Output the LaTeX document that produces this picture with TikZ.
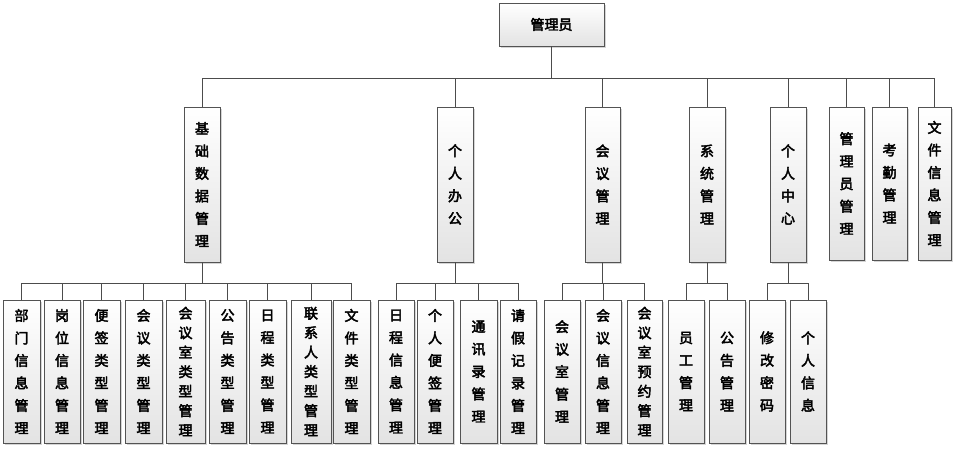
\documentclass[tikz,border=0pt]{standalone}
\usepackage{fontspec}
\newfontfamily\cjk{Noto Sans CJK SC}[AutoFakeBold=3]
\usetikzlibrary{shadows}
\tikzset{
 box/.style={draw=gray!65!black, line width=0.7pt, top color=white, bottom color=gray!22, inner sep=0pt,
   drop shadow={shadow xshift=2pt, shadow yshift=-2pt, fill=gray!55, opacity=0.6},
   align=center, font=\cjk\bfseries\fontsize{14}{22.5}\selectfont},
 tight/.style={font=\cjk\bfseries\fontsize{14}{19.5}\selectfont},
 ln/.style={draw=gray!60!black, line width=0.7pt}
}
\newcommand\bx[7][]{\node[box,#1, minimum width={(#5-#3)*1pt}, minimum height={(#6-#4)*1pt}] (#2) at ({(#3+#5)/2},{(#4+#6)/2}) {#7};}
\begin{document}
\begin{tikzpicture}[x=1pt,y=-1pt]
\useasboundingbox (0,0) rectangle (954,449);
\bx{root}{499}{3}{604}{46}{管理员}
\bx{a}{184}{107}{220}{262}{基\\础\\数\\据\\管\\理}
\bx{b}{437}{107}{473}{262}{个\\人\\办\\公}
\bx{c}{585}{107}{620}{262}{会\\议\\管\\理}
\bx{d}{689}{107}{725}{262}{系\\统\\管\\理}
\bx{e}{770}{107}{806}{262}{个\\人\\中\\心}
\bx{f}{829}{107}{864}{260}{管\\理\\员\\管\\理}
\bx{g}{872}{107}{907}{260}{考\\勤\\管\\理}
\bx{h}{918}{107}{951}{260}{文\\件\\信\\息\\管\\理}
\foreach \n in {a,b,c,d,e,f,g,h} \draw[ln] (root.south) -- (root.south |- 0,78) -| (\n.north);
% group a
\bx{a1}{3}{300}{40}{443}{部\\门\\信\\息\\管\\理}
\bx{a2}{44}{300}{80}{443}{岗\\位\\信\\息\\管\\理}
\bx{a3}{83}{300}{120}{443}{便\\签\\类\\型\\管\\理}
\bx{a4}{125}{300}{162}{443}{会\\议\\类\\型\\管\\理}
\bx[tight]{a5}{166}{300}{205}{443}{会\\议\\室\\类\\型\\管\\理}
\bx{a6}{209}{300}{246}{443}{公\\告\\类\\型\\管\\理}
\bx{a7}{249}{300}{286}{443}{日\\程\\类\\型\\管\\理}
\bx[tight]{a8}{291}{300}{331}{443}{联\\系\\人\\类\\型\\管\\理}
\bx{a9}{333}{300}{370}{443}{文\\件\\类\\型\\管\\理}
\foreach \n in {a1,a2,a3,a4,a5,a6,a7,a8,a9} \draw[ln] (a.south) -- (a.south |- 0,283) -| (\n.north);
\bx{b1}{378}{300}{414}{443}{日\\程\\信\\息\\管\\理}
\bx{b2}{417}{300}{453}{443}{个\\人\\便\\签\\管\\理}
\bx{b3}{460}{300}{497}{443}{通\\讯\\录\\管\\理}
\bx{b4}{500}{300}{536}{443}{请\\假\\记\\录\\管\\理}
\foreach \n in {b1,b2,b3,b4} \draw[ln] (b.south) -- (b.south |- 0,283) -| (\n.north);
\bx{c1}{544}{300}{580}{443}{会\\议\\室\\管\\理}
\bx{c2}{585}{300}{621}{443}{会\\议\\信\\息\\管\\理}
\bx[tight]{c3}{627}{300}{662}{443}{会\\议\\室\\预\\约\\管\\理}
\foreach \n in {c1,c2,c3} \draw[ln] (c.south) -- (c.south |- 0,283) -| (\n.north);
\bx{d1}{668}{300}{704}{443}{员\\工\\管\\理}
\bx{d2}{709}{300}{745}{443}{公\\告\\管\\理}
\foreach \n in {d1,d2} \draw[ln] (d.south) -- (d.south |- 0,283) -| (\n.north);
\bx{e1}{749}{300}{785}{443}{修\\改\\密\\码}
\bx{e2}{790}{300}{826}{443}{个\\人\\信\\息}
\foreach \n in {e1,e2} \draw[ln] (e.south) -- (e.south |- 0,283) -| (\n.north);
\end{tikzpicture}
\end{document}
